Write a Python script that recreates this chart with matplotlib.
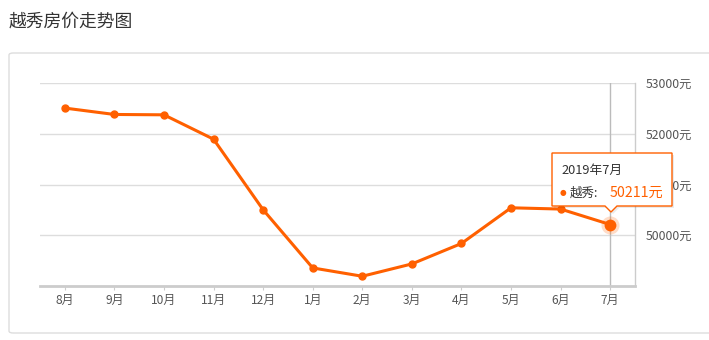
import matplotlib
matplotlib.use("Agg")
import matplotlib.pyplot as plt
from matplotlib.patches import FancyBboxPatch, Polygon

plt.rcParams['font.family'] = ['Noto Sans CJK SC', 'DejaVu Sans']

months = ['8月', '9月', '10月', '11月', '12月', '1月', '2月', '3月', '4月', '5月', '6月', '7月']
prices = [52506, 52380, 52373, 51893, 50502, 49356, 49192, 49435, 49838, 50541, 50516, 50211]
yticks = [50000, 51000, 52000, 53000]
district = '越秀'
year = 2019

W, H = 709, 340
ORANGE = '#ff6000'


def fx(x):
    return x / W


def fy(y):
    return 1 - y / H


fig = plt.figure(figsize=(W / 100, H / 100), dpi=100)

# title and panel border
fig.text(fx(9), fy(22), district + '房价走势图', fontsize=12.8, color='#333333',
         va='center', ha='left')
panel = FancyBboxPatch((fx(9), fy(333)), fx(720) - fx(9), fy(53) - fy(333),
                       boxstyle='round,pad=0,rounding_size=0.006',
                       transform=fig.transFigure, facecolor='none',
                       edgecolor='#dddddd', linewidth=1, zorder=-1)
fig.patches.append(panel)

ax = fig.add_axes([fx(40), fy(286), fx(635) - fx(40), fy(83) - fy(286)])
ax.set_facecolor('none')
x = list(range(len(months)))

ax.set_xlim(-0.5, len(months) - 0.5)
ax.set_ylim(49000, 53000)

for v in yticks:
    ax.axhline(v, color='#dddddd', linewidth=1, zorder=1)

# axis pointer on the last month
ax.axvline(x[-1], color='#bbbbbb', linewidth=1, zorder=1)

ax.plot(x, prices, color=ORANGE, linewidth=2.2, marker='o', markersize=5,
        zorder=3, clip_on=False)
ax.plot(x[-1], prices[-1], 'o', color=ORANGE, markersize=13, alpha=0.22,
        zorder=4, markeredgewidth=0)
ax.plot(x[-1], prices[-1], 'o', color=ORANGE, markersize=8.5, zorder=5,
        markeredgewidth=0)

for s in ['left', 'top']:
    ax.spines[s].set_visible(False)
ax.spines['bottom'].set_color('#cccccc')
ax.spines['bottom'].set_linewidth(2)
ax.spines['right'].set_color('#cccccc')
ax.spines['right'].set_linewidth(1)

ax.set_xticks(x)
ax.set_xticklabels(months)
ax.tick_params(axis='x', length=3, color='#cccccc', labelsize=8.6,
               labelcolor='#555555', pad=3)
ax.yaxis.tick_right()
ax.set_yticks(yticks)
ax.set_yticklabels([f'{v}元' for v in yticks])
ax.tick_params(axis='y', length=0, labelsize=8.8, labelcolor='#555555', pad=8)

# tooltip
shape = [(552, 153), (672, 153), (672, 206), (617, 206), (611, 212),
         (605, 206), (552, 206)]
shadow = Polygon([(fx(a + 2), fy(b + 2)) for a, b in shape], closed=True,
                 transform=fig.transFigure, facecolor='#000000', alpha=0.08,
                 edgecolor='none', zorder=8)
tip = Polygon([(fx(a), fy(b)) for a, b in shape], closed=True,
              transform=fig.transFigure, facecolor='white',
              edgecolor=ORANGE, linewidth=1, zorder=9)
fig.patches.append(shadow)
fig.patches.append(tip)
fig.text(fx(561), fy(170), f'{year}年{months[-1]}', fontsize=9.2,
         color='#333333', va='center', ha='left', zorder=10)
fig.text(fx(560), fy(193), '●', fontsize=5.5, color=ORANGE, va='center',
         ha='left', family='DejaVu Sans', zorder=10)
fig.text(fx(570), fy(193), district + ':', fontsize=9.0, color='#333333',
         va='center', ha='left', zorder=10)
fig.text(fx(610), fy(193), f'{prices[-1]}元', fontsize=10.2, color=ORANGE,
         va='center', ha='left', zorder=10)

fig.savefig('out.png', dpi=100)
